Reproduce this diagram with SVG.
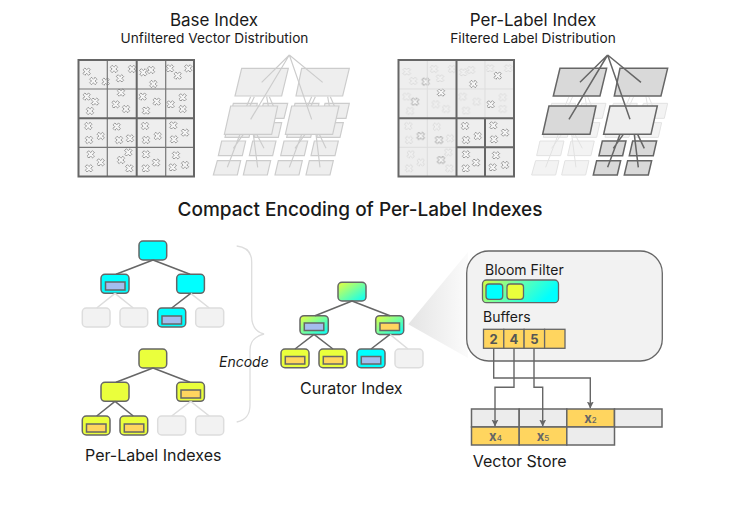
<svg xmlns="http://www.w3.org/2000/svg" width="743" height="515" viewBox="0 0 743 515">
<style>
text{font-family:Inter,"Noto Sans","Liberation Sans",sans-serif;fill:#1a1a1a}
.t{font-size:17px;text-anchor:middle}
.s{font-size:13.7px;text-anchor:middle}
.l{font-size:16px}
.b{font-size:14px}
.cell{fill:#eee;stroke:none}
.gl{stroke:#777;fill:none;stroke-width:1.2}
.gh{stroke:#666;fill:none;stroke-width:2}
.gf{stroke:#ddd;fill:none;stroke-width:1}
.m{fill:#f6f6f6;stroke:#666;stroke-width:2.4;stroke-dasharray:4 1.2}
.pl{fill:#eee;stroke:#ccc;stroke-width:3.5}
.pf{fill:#f3f3f3;stroke:#e2e2e2;stroke-width:3}
.pd{fill:#d9d9d9;stroke:#666;stroke-width:4.5}
.pw{fill:#eee;stroke:#666;stroke-width:4.5}
.ll{stroke:#ccc;stroke-width:3.5;fill:none}
.lf{stroke:#e2e2e2;stroke-width:3;fill:none}
.ld{stroke:#666;stroke-width:4.5;fill:none}
.n{stroke:#666;stroke-width:1.5;fill:#f2f2f2}
.e{stroke:#ddd;stroke-width:1.5;fill:#f2f2f2}
.c{fill:#0ff}.y{fill:#eaff3c}.g{fill:url(#grad)}
.ib{fill:#a4bdee;stroke:#666;stroke-width:1.5}
.iy{fill:#ffd55f;stroke:#666;stroke-width:1.5}
.ed{stroke:#666;stroke-width:1.5;fill:none}
.eg{stroke:#ddd;stroke-width:1.5;fill:none}
.bc{fill:#ffd55f;stroke:#666;stroke-width:1.3}
.vg{fill:#ececec;stroke:#666;stroke-width:1.5}
.vy{fill:#ffd55f;stroke:#666;stroke-width:1.5}
.d{font-size:13px;font-weight:700;fill:#555;text-anchor:middle}
.vx{font-size:13px;font-weight:700;fill:#666;text-anchor:middle}
.vn{font-size:8px;font-weight:500}
.ar{stroke:#666;stroke-width:1.4;fill:none}
</style>
<defs>
<path id="x" d="M-5.500-11-.1-5.500 5.500-11 11-5.500 5.500 0 11 5.500 5.500 11 0 5.500-5.500 11-11 5.500-5.500 0-11-5.500Z"/>
<linearGradient id="grad" x1="0" y1="0" x2="1" y2="1"><stop offset="0" stop-color="#eaff3c"/><stop offset="1" stop-color="#0ff"/></linearGradient>
<linearGradient id="bloom" x1="0" y1="0" x2="1" y2=".3"><stop offset="0" stop-color="#d9ff3c"/><stop offset=".45" stop-color="#6dffa8"/><stop offset="1" stop-color="#0ff"/></linearGradient>
<linearGradient id="fun" x1="0" y1="0" x2="1" y2="0"><stop offset="0" stop-color="#e4e4e4"/><stop offset="1" stop-color="#fbfbfb"/></linearGradient>
<marker id="ah" markerWidth="8" markerHeight="8" refX="6.500" refY="4" orient="auto" markerUnits="userSpaceOnUse"><path d="M0 .5L7 4 0 7.500 1.500 4Z" fill="#666"/></marker>
<g id="marks1" class="m">
<use href="#x" x="50" y="65"/><use href="#x" x="70" y="93"/><use href="#x" x="132" y="57"/><use href="#x" x="186" y="57"/><use href="#x" x="150" y="85"/><use href="#x" x="220" y="67"/><use href="#x" x="243" y="60"/><use href="#x" x="300" y="55"/><use href="#x" x="355" y="55"/>
<use href="#x" x="50" y="140"/><use href="#x" x="60" y="183"/><use href="#x" x="137" y="163"/><use href="#x" x="168" y="177"/><use href="#x" x="218" y="140"/><use href="#x" x="260" y="155"/><use href="#x" x="228" y="182"/><use href="#x" x="338" y="142"/><use href="#x" x="338" y="177"/>
<use href="#x" x="55" y="228"/><use href="#x" x="57" y="270"/><use href="#x" x="140" y="230"/><use href="#x" x="180" y="265"/>
<use href="#x" x="62" y="313"/><use href="#x" x="92" y="337"/><use href="#x" x="57" y="355"/><use href="#x" x="175" y="307"/><use href="#x" x="178" y="355"/>
</g>
<g id="marks2" class="m">
<use href="#x" x="107" y="95"/><use href="#x" x="323" y="77"/><use href="#x" x="250" y="102"/><use href="#x" x="153" y="128"/><use href="#x" x="75" y="155"/><use href="#x" x="302" y="163"/><use href="#x" x="92" y="258"/><use href="#x" x="147" y="270"/><use href="#x" x="153" y="330"/>
<use href="#x" x="225" y="228"/><use href="#x" x="263" y="258"/><use href="#x" x="228" y="270"/><use href="#x" x="310" y="226"/><use href="#x" x="345" y="248"/><use href="#x" x="312" y="268"/><use href="#x" x="228" y="313"/><use href="#x" x="258" y="338"/><use href="#x" x="227" y="355"/><use href="#x" x="318" y="316"/><use href="#x" x="345" y="345"/><use href="#x" x="308" y="352"/>
</g>
</defs>

<text class="t" x="214" y="26">Base Index</text>
<text class="s" x="214.500" y="42.500">Unfiltered Vector Distribution</text>
<text class="t" x="533" y="26">Per-Label Index</text>
<text class="s" x="533" y="42.500">Filtered Label Distribution</text>
<text x="360" y="216" style="font-size:19px;font-weight:500;text-anchor:middle">Compact Encoding of Per-Label Indexes</text>

<g id="base-grid">
<rect class="cell" x="78.500" y="60" width="115.500" height="116.500"/>
<g transform="translate(70,50) scale(.33333)"><use href="#marks1"/><use href="#marks2"/></g>
<path class="gl" d="M107.300 60V176.500M165.700 60V176.500M78.500 89H194M78.500 147.300H194"/>
<path class="gh" d="M78.500 60H194V176.500H78.500ZM136.700 60V176.500M78.500 118.300H194"/>
</g>

<g id="base-tree" transform="translate(210,50) scale(.33333)">
<g class="pl">
<path d="M70 160H142L132 205H60Z"/><path d="M160 160H233L222 205H150Z"/><path d="M255 160H327L317 205H245Z"/><path d="M345 160H418L408 205H335Z"/>
<path d="M55 218H127L117 262H45Z"/><path d="M143 218H215L205 262H133Z"/><path d="M240 218H312L302 262H230Z"/><path d="M330 218H400L390 262H320Z"/>
<path d="M35 273H107L97 317H25Z"/><path d="M128 273H198L188 317H118Z"/><path d="M222 273H293L283 317H212Z"/><path d="M313 273H385L375 317H303Z"/>
<path d="M22 332H92L82 375H10Z"/><path d="M110 332H182L172 375H100Z"/><path d="M205 332H277L267 375H195Z"/><path d="M298 332H370L360 375H288Z"/>
</g>
<path class="ll" d="M133 140L120 168M122 140L110 168M170 140L175 168M178 140L190 168M316 140L303 168M305 140L293 168M353 140L358 168M361 140L373 168"/>
<g class="pl"><path d="M95 55H235L215 138H75Z"/><path d="M275 55H418L398 138H258Z"/><path d="M62 168H203L185 253H43Z"/><path d="M245 168H387L368 253H226Z"/></g>
<path class="ll" d="M238 15L155 97M238 15L122 208M238 15L338 97M238 15L305 208M100 253L70 295M90 253L52 352M130 253L143 352M140 253L162 295M285 253L255 295M275 253L238 352M318 253L330 352M328 253L348 295"/>
</g>

<g id="label-grid">
<rect class="cell" x="398.500" y="60" width="115.500" height="116.500"/>
<g transform="translate(390,50) scale(.33333)"><g opacity=".25"><use href="#marks1"/></g><use href="#marks2"/></g>
<path class="gf" d="M427.300 60V176.500M485 60V118.300M398.500 89H514M398.500 147.300H456"/>
<path class="gh" d="M398.500 60H514V176.500H398.500ZM456.500 60V176.500M398.500 118.300H514M485 118.300V176.500M456.500 147.300H514"/>
</g>

<g id="label-tree" transform="translate(528.300,50) scale(.33333)">
<g class="pf">
<path d="M70 160H142L132 205H60Z"/><path d="M160 160H233L222 205H150Z"/><path d="M255 160H327L317 205H245Z"/><path d="M345 160H418L408 205H335Z"/>
<path d="M55 218H127L117 262H45Z"/><path d="M143 218H215L205 262H133Z"/><path d="M240 218H312L302 262H230Z"/><path d="M330 218H400L390 262H320Z"/>
<path d="M35 273H107L97 317H25Z"/><path d="M128 273H198L188 317H118Z"/>
<path d="M22 332H92L82 375H10Z"/><path d="M110 332H182L172 375H100Z"/>
</g>
<path class="lf" d="M133 140L120 168M122 140L110 168M170 140L175 168M178 140L190 168M316 140L303 168M305 140L293 168M353 140L358 168M361 140L373 168M100 253L70 295M90 253L52 352M130 253L143 352M140 253L162 295"/>
<g class="pd"><path d="M222 273H293L283 317H212Z"/><path d="M313 273H385L375 317H303Z"/><path d="M205 332H277L267 375H195Z"/><path d="M298 332H370L360 375H288Z"/>
<path d="M95 55H235L215 138H75Z"/><path d="M275 55H418L398 138H258Z"/><path d="M62 168H203L185 253H43Z"/></g>
<path class="pw" d="M245 168H387L368 253H226Z"/>
<path class="ld" d="M238 15L155 97M238 15L122 208M238 15L338 97M238 15L305 208M285 253L255 295M275 253L238 352M318 253L330 352M328 253L348 295"/>
</g>

<g id="pl-cyan">
<g id="c1"><rect class="n c" x="139" y="241" width="27.700" height="19" rx="4"/></g>
<g id="c2"><rect class="n c" x="101" y="274.300" width="28" height="19" rx="4"/><rect class="ib" x="105.500" y="282" width="19.500" height="8"/></g>
<g id="c3"><rect class="n c" x="176.700" y="274.300" width="27.700" height="19" rx="4"/></g>
<g id="c4"><rect class="e" x="82.300" y="308" width="27.700" height="19" rx="4"/></g>
<g id="c5"><rect class="e" x="120" y="308" width="27.700" height="19" rx="4"/></g>
<g id="c6"><rect class="n c" x="157.700" y="308" width="28" height="19" rx="4"/><rect class="ib" x="162" y="316" width="19.500" height="8"/></g>
<g id="c7"><rect class="e" x="195.700" y="308" width="28" height="19" rx="4"/></g>
</g>
<g id="pl-yellow">
<g id="y1"><rect class="n y" x="139" y="349" width="27.700" height="19" rx="4"/></g>
<g id="y2"><rect class="n y" x="101" y="382.300" width="28" height="19" rx="4"/></g>
<g id="y3"><rect class="n y" x="176.700" y="382.300" width="27.700" height="19" rx="4"/><rect class="iy" x="181" y="390" width="19.500" height="8"/></g>
<g id="y4"><rect class="n y" x="82.300" y="416" width="27.700" height="19" rx="4"/><rect class="iy" x="86.500" y="424" width="19.500" height="8"/></g>
<g id="y5"><rect class="n y" x="120" y="416" width="27.700" height="19" rx="4"/><rect class="iy" x="124.300" y="424" width="19.500" height="8"/></g>
<g id="y6"><rect class="e" x="157.700" y="416" width="28" height="19" rx="4"/></g>
<g id="y7"><rect class="e" x="195.700" y="416" width="28" height="19" rx="4"/></g>
</g>
<text class="l" x="85" y="460.700">Per-Label Indexes</text>

<path id="brace" d="M236.700 246C246 247 251.700 252 251.700 262V316C251.700 326 256 332 264 334C256 336 250 341 250 350V405C250 415 246 420 236.700 422" fill="none" stroke="#ddd" stroke-width="1.300"/>
<text x="219" y="366.700" style="font-size:14px;font-style:italic">Encode</text>

<g id="curator">
<g id="g1"><rect class="n g" x="338" y="282.300" width="28" height="18.700" rx="4"/></g>
<g id="g2"><rect class="n g" x="300" y="315.700" width="28.300" height="18.700" rx="4"/><rect class="ib" x="304.300" y="323" width="19.500" height="7.500"/></g>
<g id="g3"><rect class="n g" x="375.700" y="315.700" width="28" height="18.700" rx="4"/><rect class="iy" x="380" y="323" width="19.500" height="7.500"/></g>
<g id="g4"><rect class="n y" x="281" y="349" width="28" height="18.700" rx="4"/><rect class="iy" x="285.300" y="356.500" width="19.500" height="7.500"/></g>
<g id="g5"><rect class="n y" x="319" y="349" width="28" height="18.700" rx="4"/><rect class="iy" x="323.300" y="356.500" width="19.500" height="7.500"/></g>
<g id="g6"><rect class="n c" x="357" y="349" width="28" height="18.700" rx="4"/><rect class="ib" x="361.300" y="356.500" width="19.500" height="7.500"/></g>
<g id="g7"><rect class="e" x="395" y="349" width="28" height="18.700" rx="4"/></g>
</g>
<text class="l" x="300" y="394">Curator Index</text>

<path id="funnel" d="M408.300 324.300L468 252V358Z" fill="url(#fun)"/>
<g id="callout">
<rect x="466.700" y="251" width="195.600" height="110" rx="22" fill="#f2f2f2" stroke="#666" stroke-width="1.300"/>
<text class="b" x="485" y="275">Bloom Filter</text>
<rect x="482.500" y="280" width="76" height="22.700" rx="4" fill="url(#bloom)" stroke="#666" stroke-width="1.300"/>
<rect class="c" x="486" y="284" width="16.700" height="15.300" rx="3" stroke="#666" stroke-width="1.300"/>
<rect class="y" x="507" y="284" width="16.500" height="15.300" rx="3" stroke="#666" stroke-width="1.300"/>
<text class="b" x="483" y="322.300">Buffers</text>
<rect class="bc" x="483.500" y="329.300" width="20.300" height="19"/><rect class="bc" x="503.800" y="329.300" width="20.300" height="19"/><rect class="bc" x="524.100" y="329.300" width="20.500" height="19"/><rect class="bc" x="544.600" y="329.300" width="20.400" height="19"/>
<text class="d" x="493.700" y="344">2</text><text class="d" x="514" y="344">4</text><text class="d" x="534.300" y="344">5</text>
</g>
<g id="vector-store">
<rect class="vg" x="471.500" y="409" width="47.700" height="18"/><rect class="vg" x="519.200" y="409" width="47.600" height="18"/><rect class="vy" x="566.800" y="409" width="47.700" height="18"/><rect class="vg" x="614.500" y="409" width="47.500" height="18"/>
<rect class="vy" x="471.500" y="427" width="47.700" height="18"/><rect class="vy" x="519.200" y="427" width="47.600" height="18"/><rect class="vg" x="566.800" y="427" width="47.700" height="18"/>
<text class="vx" x="590.500" y="422.500">x<tspan class="vn">2</tspan></text>
<text class="vx" x="495.500" y="440.500">x<tspan class="vn">4</tspan></text>
<text class="vx" x="543" y="440.500">x<tspan class="vn">5</tspan></text>
</g>
<text class="l" x="472.700" y="466.700">Vector Store</text>

<g id="connectors">
<path class="eg" d="M115 293.300L96.700 308M115 293.300L133.300 308M190.700 293.300L209.300 308M190.700 401.300L171.700 416M190.700 401.300L209.300 416M390 334.300L408 349"/>
<path class="ed" d="M153 260L116 274.300M153 260L190 274.300M190.700 293.300L171.700 308M153 368L116 382.300M153 368L190 382.300M115 401.300L96.700 416M115 401.300L133.300 416M352 301L315 315.700M352 301L390 315.700M314 334.300L295 349M314 334.300L333 349M390 334.300L371 349"/>
<path class="ar" d="M493.700 348.300V378H590.300V408" marker-end="url(#ah)"/>
<path class="ar" d="M514 348.300V387.300H495V426" marker-end="url(#ah)"/>
<path class="ar" d="M534 348.300V387.300H542.700V426" marker-end="url(#ah)"/>
</g>
</svg>
